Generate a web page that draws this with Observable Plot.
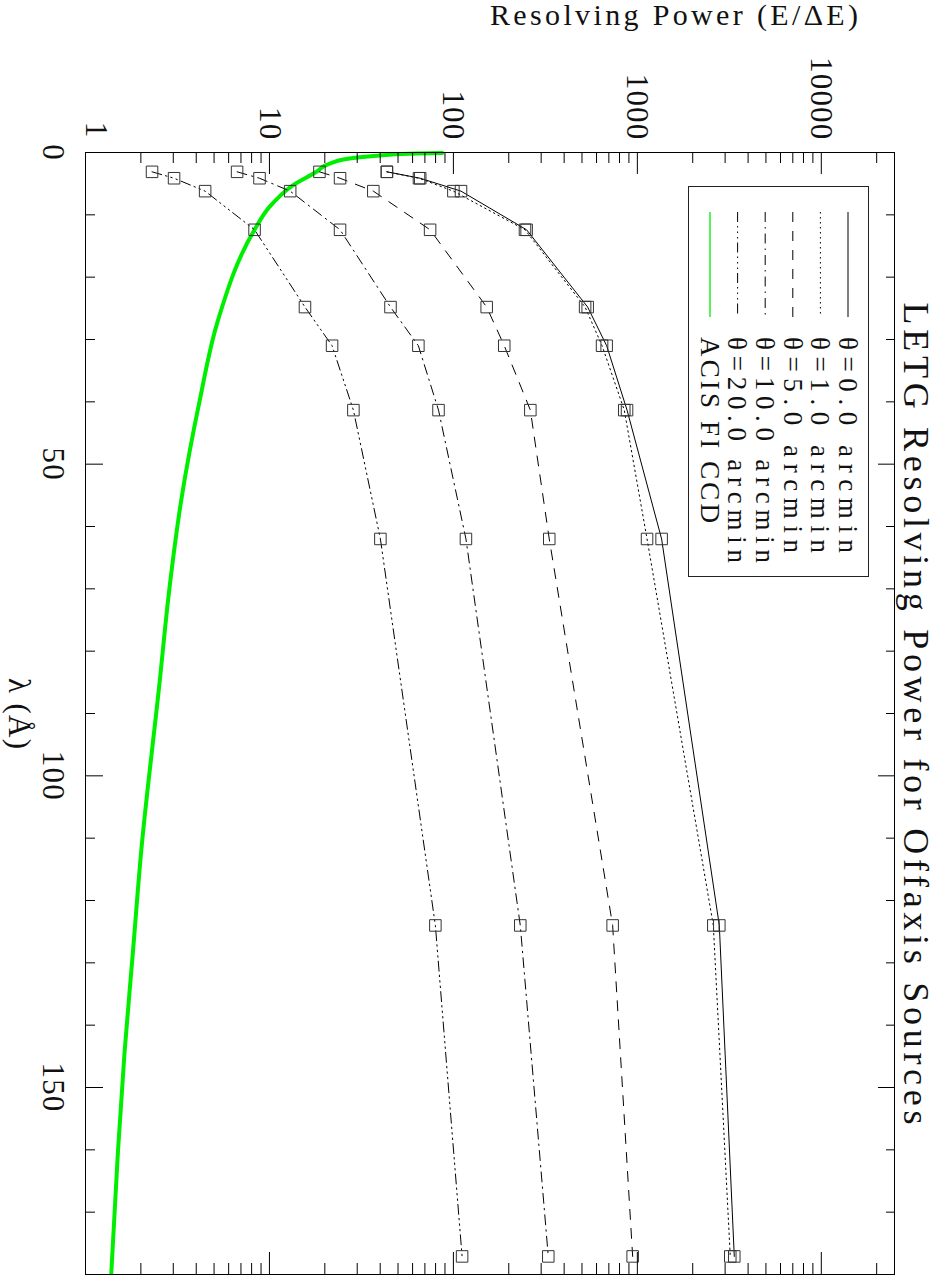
<!DOCTYPE html>
<html><head><meta charset="utf-8">
<script src="https://cdn.jsdelivr.net/npm/d3@7"></script>
<script src="https://cdn.jsdelivr.net/npm/@observablehq/plot@0.6"></script>
<style>
html,body{margin:0;padding:0;background:#fff;overflow:hidden;width:937px;height:1275px;}
#wrap{position:absolute;left:0;top:0;width:1275px;height:937px;transform-origin:0 0;transform:translate(937px,0) rotate(90deg);}
</style></head><body><div id="wrap"></div>
<script>
// ---- data ----
const wavelengths = [3.10, 4.13, 6.20, 12.40, 24.80, 31.00, 41.33, 62.00, 124.0, 177.1];
const theta0  = [43.5, 66, 110, 250, 537, 681, 879, 1355, 2790, 3365];
const theta1  = [43.5, 65, 100, 245, 520, 643, 849, 1129, 2588, 3200];
const theta5  = [18.7, 24.2, 36.7, 74.7, 151.7, 189, 262, 332, 734, 943];
const theta10 = [6.67, 8.83, 12.96, 24.2, 45.5, 64.5, 83, 117, 231, 328];
const theta20 = [2.30, 3.03, 4.47, 8.3, 15.6, 21.9, 28.6, 40.1, 79.8, 111.5];
const seriesNames = ["θ=0.0 arcmin", "θ=1.0 arcmin", "θ=5.0 arcmin", "θ=10.0 arcmin", "θ=20.0 arcmin"];

const acisLambda = [0.08, 0.15, 0.43, 0.96, 2.04, 3.0, 5.26, 8.73, 12.4, 27, 39.9, 55.9, 69.9, 85.4, 112, 128.3, 144.4, 160.4, 180];
const acisPower  = [87, 63, 41.3, 27.2, 20.3, 18.2, 13.4, 10.0, 8.3, 5.24, 4.17, 3.31, 2.86, 2.52, 2.01, 1.81, 1.63, 1.50, 1.38];
const acisName = "ACIS FI CCD";

const lambdaTicks = [0, 50, 100, 150];
const lambdaMinorTicks = [10, 20, 30, 40, 60, 70, 80, 90, 110, 120, 130, 140, 160, 170];
const powerTicks = [1, 10, 100, 1000, 10000];
const powerMinorTicks = [2, 3, 4, 5, 6, 7, 8, 9, 20, 30, 40, 50, 60, 70, 80, 90,
  200, 300, 400, 500, 600, 700, 800, 900, 2000, 3000, 4000, 5000, 6000, 7000, 8000, 9000, 20000];

const titleText = "LETG Resolving Power for Offaxis Sources";
const xLabel = "λ (Å)";
const yLabel = "Resolving Power (E/ΔE)";

// ---- styles ----
const dashes = [undefined, "1.5,3.5", "10,9", "10,5,1.5,5", "10,4,1.5,4,1.5,4,1.5,4"];
const green = "#00ee00";

// ---- tables ----
const seriesValues = [theta0, theta1, theta5, theta10, theta20];
const rows = seriesValues.flatMap((vals, s) => vals.map((v, i) => ({series: seriesNames[s], lambda: wavelengths[i], power: v})));
const acisRows = acisLambda.map((l, i) => ({lambda: l, power: acisPower[i]}));

const W = 1275, H = 937, mL = 152, mR = 1, mT = 42, mB = 86;
const fw = W - mL - mR, fh = H - mT - mB;

const chart = Plot.plot({
  width: W, height: H,
  marginLeft: mL, marginRight: mR, marginTop: mT, marginBottom: mB,
  style: {fontFamily: "Liberation Serif", fontSize: "31px", background: "white", color: "#111", overflow: "visible"},
  x: {domain: [0, 180], axis: null},
  y: {type: "log", domain: [1, 25000], axis: null},
  marks: [
    Plot.line(acisRows, {x: "lambda", y: "power", stroke: green, strokeWidth: 4, curve: "monotone-x"}),
    ...seriesNames.map((name, s) => Plot.line(rows.filter(d => d.series === name),
      {x: "lambda", y: "power", stroke: "#000", strokeWidth: 1, strokeDasharray: dashes[s]})),
    Plot.dot(rows, {x: "lambda", y: "power", symbol: "square", r: 6.5, stroke: "#333", fill: "none", strokeWidth: 1}),
    // inward ticks, lambda axis
    Plot.ruleX(lambdaMinorTicks, {insetTop: fh - 9, stroke: "#000"}),
    Plot.ruleX(lambdaTicks, {insetTop: fh - 17, stroke: "#000"}),
    Plot.ruleX(lambdaMinorTicks, {insetBottom: fh - 9, stroke: "#000"}),
    Plot.ruleX(lambdaTicks, {insetBottom: fh - 17, stroke: "#000"}),
    // inward ticks, power axis
    Plot.ruleY(powerMinorTicks, {insetRight: fw - 11, stroke: "#000"}),
    Plot.ruleY(powerTicks, {insetRight: fw - 22, stroke: "#000"}),
    Plot.ruleY(powerMinorTicks, {insetLeft: fw - 11, stroke: "#000"}),
    Plot.ruleY(powerTicks, {insetLeft: fw - 22, stroke: "#000"}),
    Plot.frame({stroke: "#000"}),
    // tick labels
    Plot.text(lambdaTicks, {x: d => d, text: d => String(d), frameAnchor: "bottom", dy: 32.5, lineAnchor: "middle", fontSize: 31}),
    Plot.text(powerTicks.filter(d => d !== 1), {y: d => d, text: d => String(d), frameAnchor: "left", textAnchor: "end", dx: -12, lineAnchor: "middle", fontSize: 31}),
    Plot.text(powerTicks.filter(d => d === 1), {y: d => d, text: d => String(d), frameAnchor: "left", textAnchor: "end", dx: -14, dy: -10, lineAnchor: "middle", fontSize: 31}),
    // axis labels and title
    Plot.text([xLabel], {frameAnchor: "bottom", dy: 67, lineAnchor: "middle", fontSize: 31}),
    Plot.text([yLabel], {frameAnchor: "left", dx: -137, rotate: -90, lineAnchor: "middle", fontSize: 30}),
    Plot.text([titleText], {frameAnchor: "top", dy: -21, lineAnchor: "middle", fontSize: 36})
  ]
});

// text widths of the original stroke font
const fitted = new Map([[titleText, 822], [yLabel, 368], [xLabel, 71]]);
d3.select(chart).selectAll("text").each(function () {
  const L = fitted.get(this.textContent);
  if (L) { this.setAttribute("textLength", L); this.setAttribute("lengthAdjust", "spacing"); }
  else this.setAttribute("letter-spacing", "1.2");
});

// ---- legend ----
const legendItems = seriesNames.map((n, s) => ({label: n, stroke: "#000", width: 1, dash: dashes[s]}))
  .concat([{label: acisName, stroke: green, width: 1.3, dash: undefined}]);
const legendLengths = [216, 216, 216, 226, 226, 186];
const lg = d3.select(chart).append("g").attr("font-family", "Liberation Serif").attr("font-size", 27)
  .attr("text-anchor", "start");
lg.append("rect").attr("x", 186.5).attr("y", 68.5).attr("width", 390).attr("height", 180)
  .attr("fill", "white").attr("stroke", "#222").attr("stroke-width", 1);
legendItems.forEach((it, i) => {
  const cy = 89 + i * 27.6;
  lg.append("line").attr("x1", 212).attr("x2", 317).attr("y1", cy).attr("y2", cy)
    .attr("stroke", it.stroke).attr("stroke-width", it.width).attr("stroke-dasharray", it.dash ?? null);
  lg.append("text").attr("x", 337).attr("y", cy).attr("dy", "0.34em").attr("fill", "#111")
    .attr("text-anchor", "start")
    .attr("textLength", legendLengths[i]).attr("lengthAdjust", "spacing").text(it.label);
});

document.getElementById("wrap").appendChild(chart);
</script></body></html>
